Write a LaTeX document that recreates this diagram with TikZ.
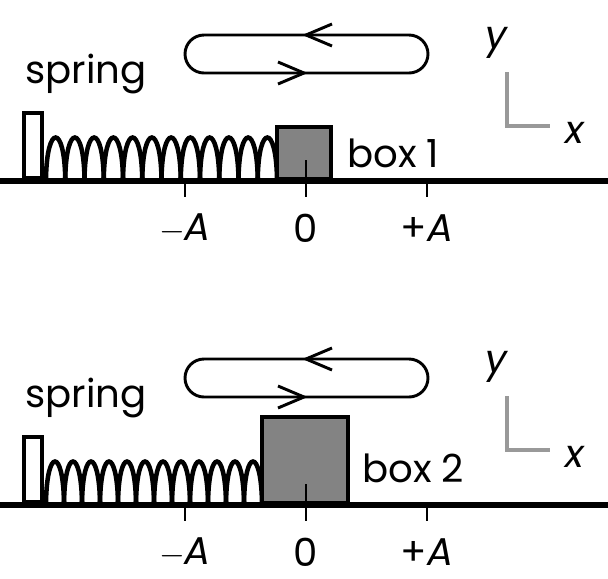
\documentclass[tikz,border=0pt]{standalone}
\usepackage{fontspec}
\setmainfont{Poppins}
\begin{document}
\begin{tikzpicture}[x=0.75pt,y=-0.75pt,
  lbl/.style={font=\fontsize{29}{32}\selectfont, inner sep=0pt},
  base/.style={line width=3.8pt},
  boxs/.style={line width=3.6pt, fill=gray!95!white!55!gray},
  wall/.style={line width=3.4pt, fill=white},
  coil/.style={line width=3.4pt},
  loop/.style={line width=2.2pt, rounded corners=19*0.75pt},
  tick/.style={line width=2.2pt},
  ax/.style={line width=2.4pt, gray!80}]
\useasboundingbox (0,0) rectangle (608,579);
\foreach \dy/\se in {0/277, 324/262}{
  \begin{scope}[yshift=-\dy*0.75pt]
  \pgfmathsetmacro{\pp}{(\se-46)/12}
  \foreach \i in {0,...,11}{
    \draw[coil] ({46+\i*\pp},178) .. controls ({46+\i*\pp+1},124) and ({46+(\i+1)*\pp-1},124) .. ({46+(\i+1)*\pp},178);
  }
  \draw[base] (0,181) -- (608,181);
  \draw[wall] (24,113) rectangle (42,178);
  \foreach \t in {185,427} \draw[tick] (\t,183) -- (\t,197);
  \node[lbl] at (185,228) {$-$\textit{A}};
  \node[lbl] at (306,228) {0};
  \node[lbl] at (427,228) {+\textit{A}};
  \draw[loop] (185,35) rectangle (428,73);
  \draw[line width=2.2pt] (332,24) -- (306,35) -- (332,46);
  \draw[line width=2.2pt] (278,62) -- (304,73) -- (278,84);
  \node[lbl,anchor=west] at (25,74) {spring};
  \draw[ax] (507,72) -- (507,126) -- (550,126);
  \node[lbl] at (497,43) {\textit{y}};
  \node[lbl] at (575,133) {\textit{x}};
  \end{scope}
}
\draw[boxs] (277,127) rectangle (331,179);
\draw[tick] (306,160) -- (306,197);
\node[lbl,anchor=west] at (347,153) {box 1};
\draw[boxs] (262,417) rectangle (348,503);
\draw[tick] (306,484) -- (306,521);
\node[lbl,anchor=west] at (362,468) {box 2};
\end{tikzpicture}
\end{document}
